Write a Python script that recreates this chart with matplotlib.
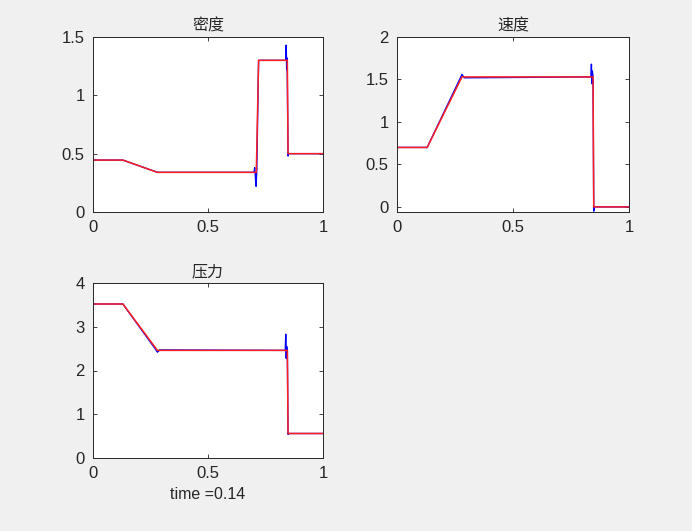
import matplotlib
matplotlib.use("Agg")
import matplotlib.pyplot as plt

plt.rcParams['font.family'] = ['Liberation Sans', 'Noto Sans CJK SC', 'DejaVu Sans']

# exact solution (red)
x_ex = [0.0, 0.13, 0.28, 0.71, 0.72, 0.845, 0.848, 1.0]
rho_ex = [0.445, 0.445, 0.34, 0.34, 1.30, 1.30, 0.50, 0.50]
x_ex_u = [0.0, 0.13, 0.28, 0.845, 0.848, 1.0]
u_ex = [0.70, 0.70, 1.53, 1.53, 0.0, 0.0]
p_ex = [3.52, 3.52, 2.46, 2.46, 0.56, 0.56]

# numerical solution (blue)
x_rho = [0.0, 0.13, 0.28, 0.70, 0.703, 0.706, 0.709, 0.712, 0.72, 0.838, 0.840, 0.842, 0.844, 0.848, 0.85, 1.0]
rho_num = [0.445, 0.445, 0.34, 0.34, 0.38, 0.30, 0.22, 0.36, 1.30, 1.30, 1.43, 1.22, 1.32, 0.48, 0.50, 0.50]
x_u = [0.0, 0.13, 0.27, 0.28, 0.29, 0.836, 0.838, 0.840, 0.842, 0.845, 0.848, 0.85, 1.0]
u_num = [0.70, 0.70, 1.50, 1.56, 1.52, 1.53, 1.68, 1.45, 1.60, 1.53, -0.05, 0.0, 0.0]
x_p = [0.0, 0.13, 0.27, 0.28, 0.29, 0.836, 0.838, 0.840, 0.842, 0.845, 0.848, 0.85, 1.0]
p_num = [3.52, 3.52, 2.50, 2.42, 2.47, 2.46, 2.83, 2.28, 2.55, 2.46, 0.54, 0.56, 0.56]

titles = ['密度', '速度', '压力']
W, H = 692, 531
fig = plt.figure(figsize=(W / 100, H / 100), dpi=100, facecolor='#f0f0f0')


def make_ax(l, t, r, b):
    return fig.add_axes([l / W, 1 - b / H, (r - l) / W, (b - t) / H])


ax1 = make_ax(93, 37, 323, 212)
ax2 = make_ax(397, 37, 629, 212)
ax3 = make_ax(93, 283, 323, 458)

ax1.plot(x_rho, rho_num, color='blue', lw=1)
ax1.plot(x_ex, rho_ex, color='#ff2020', lw=1.1)
ax1.set_ylim(0, 1.5)
ax1.set_yticks([0, 0.5, 1, 1.5])
ax1.set_yticklabels(['0', '0.5', '1', '1.5'])

ax2.plot(x_u, u_num, color='blue', lw=1)
ax2.plot(x_ex_u, u_ex, color='#ff2020', lw=1.1)
ax2.set_ylim(-0.06, 2)
ax2.set_yticks([0, 0.5, 1, 1.5, 2])
ax2.set_yticklabels(['0', '0.5', '1', '1.5', '2'])

ax3.plot(x_p, p_num, color='blue', lw=1)
ax3.plot(x_ex_u, p_ex, color='#ff2020', lw=1.1)
ax3.set_ylim(0, 4)
ax3.set_yticks([0, 1, 2, 3, 4])
ax3.set_xlabel('time =0.14', fontsize=11.5, color='#262626', labelpad=4)

for ax, t in zip([ax1, ax2, ax3], titles):
    ax.set_xlim(0, 1)
    ax.set_xticks([0, 0.5, 1])
    ax.set_xticklabels(['0', '0.5', '1'])
    ax.set_facecolor('white')
    ax.tick_params(direction='in', top=True, right=True, length=3, width=0.6,
                   labelsize=12, colors='#262626', pad=6)
    for s in ax.spines.values():
        s.set_color('#262626')
        s.set_linewidth(0.7)
    ax.set_title(t, fontsize=11.5, color='#262626', pad=5,
                 family=['Noto Sans CJK SC', 'DejaVu Sans'])

fig.savefig('out.png', dpi=100, facecolor=fig.get_facecolor())
